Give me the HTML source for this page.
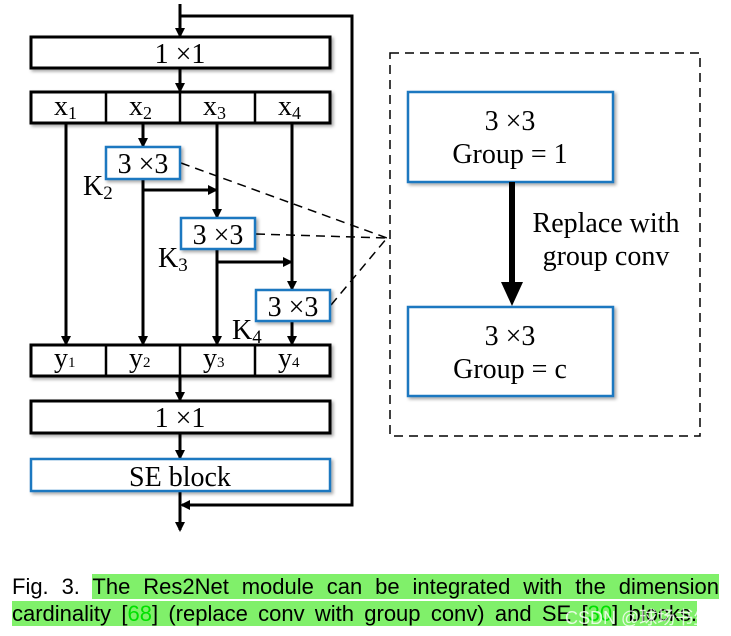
<!DOCTYPE html>
<html><head><style>
body{margin:0;background:#fff;width:731px;height:636px;overflow:hidden;position:relative}
.cap{position:absolute;left:12px;font-family:"Liberation Sans",sans-serif;font-size:22px;color:#000;white-space:nowrap;text-align:justify;text-align-last:justify;line-height:27px}
.hl{background:#80f06a}
</style></head><body>
<svg width="731" height="560" style="position:absolute;left:0;top:0" font-family="Liberation Serif, serif">
<defs>
<marker id="a" markerWidth="10" markerHeight="10" refX="8" refY="5" orient="auto" markerUnits="userSpaceOnUse"><path d="M0,0 L10,5 L0,10 Z" fill="#000"/></marker>
<filter id="s"><feDropShadow dx="2" dy="2" stdDeviation="1.5" flood-opacity="0.35"/></filter>
</defs>
<g stroke="#000" stroke-width="3" fill="none">
<line x1="180" y1="4" x2="180" y2="36" marker-end="url(#a)"/>
<polyline points="180,16 352,16 352,505 182,505" marker-end="url(#a)"/>
<line x1="180" y1="68" x2="180" y2="91" marker-end="url(#a)"/>
<line x1="66" y1="123" x2="66" y2="344" marker-end="url(#a)"/>
<line x1="143" y1="123" x2="143" y2="146" marker-end="url(#a)"/>
<line x1="143" y1="179" x2="143" y2="344" marker-end="url(#a)"/>
<line x1="143" y1="190" x2="216" y2="190" marker-end="url(#a)"/>
<line x1="217" y1="123" x2="217" y2="217" marker-end="url(#a)"/>
<line x1="217" y1="249" x2="217" y2="344" marker-end="url(#a)"/>
<line x1="217" y1="262" x2="291" y2="262" marker-end="url(#a)"/>
<line x1="292" y1="123" x2="292" y2="289" marker-end="url(#a)"/>
<line x1="292" y1="321" x2="292" y2="344" marker-end="url(#a)"/>
<line x1="180" y1="376" x2="180" y2="400" marker-end="url(#a)"/>
<line x1="180" y1="433" x2="180" y2="458" marker-end="url(#a)"/>
<line x1="180" y1="491" x2="180" y2="530" marker-end="url(#a)"/>
</g>
<g stroke="#000" stroke-width="1.5" stroke-dasharray="9,6" fill="none">
<rect x="390" y="53" width="310" height="383"/>
<line x1="181" y1="163" x2="387" y2="238"/>
<line x1="256" y1="234" x2="387" y2="238"/>
<line x1="331" y1="305" x2="387" y2="238"/>
</g>
<g stroke="#000" stroke-width="3" fill="#fff" filter="url(#s)">
<rect x="31" y="37" width="299" height="31"/>
<rect x="31" y="92" width="299" height="31"/>
<rect x="31" y="345" width="299" height="31"/>
<rect x="31" y="401" width="299" height="32"/>
</g>
<g stroke="#000" stroke-width="2.5">
<line x1="106" y1="92" x2="106" y2="123"/><line x1="180" y1="92" x2="180" y2="123"/><line x1="255" y1="92" x2="255" y2="123"/>
<line x1="106" y1="345" x2="106" y2="376"/><line x1="180" y1="345" x2="180" y2="376"/><line x1="255" y1="345" x2="255" y2="376"/>
</g>
<g stroke="#1f78c0" stroke-width="2.5" fill="#fff" filter="url(#s)">
<rect x="106" y="147" width="74" height="32"/>
<rect x="181" y="218" width="74" height="31"/>
<rect x="256" y="290" width="74" height="31"/>
<rect x="31" y="459" width="299" height="32"/>
<rect x="408" y="92" width="205" height="90"/>
<rect x="408" y="307" width="205" height="89"/>
</g>
<line x1="512" y1="182" x2="512" y2="285" stroke="#000" stroke-width="6"/>
<path d="M501,282 L523,282 L512,306 Z" fill="#000"/>
<g font-size="28" fill="#000" text-anchor="middle">
<text x="180" y="63">1 ×1</text>
<text x="180" y="427">1 ×1</text>
<text x="180" y="486">SE block</text>
<text x="143" y="173">3 ×3</text>
<text x="218" y="244">3 ×3</text>
<text x="293" y="316">3 ×3</text>
<text x="510" y="130">3 ×3</text>
<text x="510" y="163">Group = 1</text>
<text x="510" y="345">3 ×3</text>
<text x="510" y="378">Group = c</text>
<text x="606" y="232">Replace with</text>
<text x="606" y="265">group conv</text>
</g>
<g font-size="28" fill="#000">
<text x="54" y="115">x<tspan font-size="18" dy="4">1</tspan></text>
<text x="129" y="115">x<tspan font-size="18" dy="4">2</tspan></text>
<text x="203" y="115">x<tspan font-size="18" dy="4">3</tspan></text>
<text x="278" y="115">x<tspan font-size="18" dy="4">4</tspan></text>
<text x="54" y="367">y<tspan font-size="15">1</tspan></text>
<text x="129" y="367">y<tspan font-size="15">2</tspan></text>
<text x="203" y="367">y<tspan font-size="15">3</tspan></text>
<text x="278" y="367">y<tspan font-size="15">4</tspan></text>
<text x="83" y="195">K<tspan font-size="19" dy="4">2</tspan></text>
<text x="158" y="267">K<tspan font-size="19" dy="4">3</tspan></text>
<text x="232" y="339">K<tspan font-size="19" dy="4">4</tspan></text>
</g>
</svg>
<div class="cap" style="top:573px;width:707px">Fig. 3. <span class="hl">The Res2Net module can be integrated with the dimension</span></div>
<div class="cap" style="top:600px;width:685px"><span class="hl">cardinality [<span style="color:#00e000">68</span>] (replace conv with group conv) and SE [<span style="color:#00e000">30</span>] blocks.</span></div>
<div style="position:absolute;left:565px;top:604px;font-family:'Liberation Sans','Noto Sans CJK SC',sans-serif;font-size:18px;color:rgba(255,255,255,0.8)">CSDN @球场书生</div>
</body></html>
